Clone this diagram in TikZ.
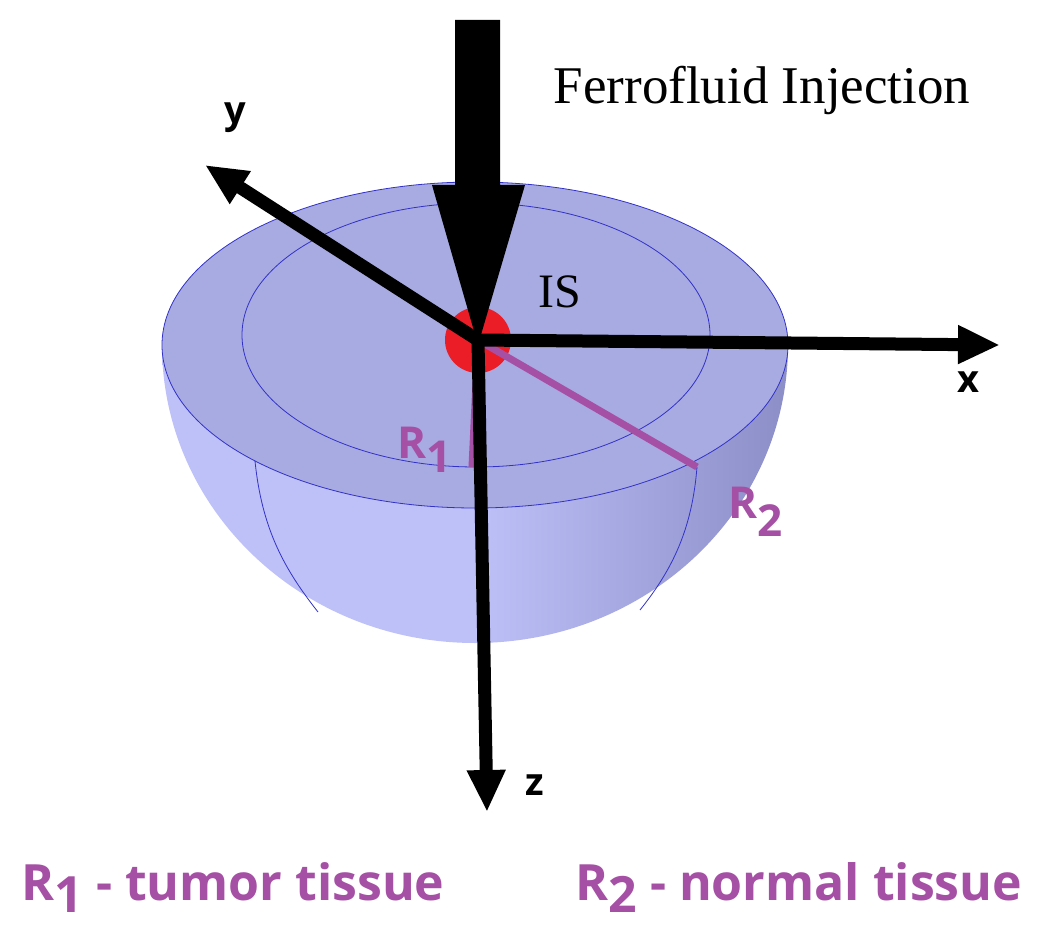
\documentclass[tikz,border=0pt]{standalone}
\usepackage{fontspec}
\setmainfont{Liberation Serif}
\setsansfont{Open Sans}
\usetikzlibrary{arrows.meta}
\definecolor{topc}{RGB}{168,170,226}
\definecolor{sidec}{RGB}{190,192,248}
\definecolor{sided}{RGB}{140,142,200}
\definecolor{edgec}{RGB}{50,50,200}
\definecolor{purp}{RGB}{165,80,165}
\definecolor{dotred}{RGB}{235,30,40}
\tikzset{
  axis/.style={line width=13pt,-{Triangle[length=42pt 0,width=36pt 0]}},
  axlab/.style={font=\sffamily\bfseries\fontsize{38}{42}\selectfont},
  rlab/.style={text=purp,font=\sffamily\bfseries\fontsize{44}{48}\selectfont},
  leg/.style={text=purp,font=\sffamily\bfseries\fontsize{50}{54}\selectfont,anchor=base west},
  seam/.style={edgec,line width=0.8pt},
}
\begin{document}
\begin{tikzpicture}[x=1pt,y=-1pt]
\useasboundingbox (0,0) rectangle (1042,952);
\fill[white] (0,0) rectangle (1042,952);
% hemisphere body
\shade[left color=sidec,right color=sided,middle color=sidec]
  (162,345) arc[start angle=180,end angle=0,x radius=313,y radius=298] -- cycle;
\draw[seam] (255,461) .. controls (262,530) and (285,570) .. (318,612);
\draw[seam] (697,467) .. controls (692,530) and (672,570) .. (640,610);
% top face
\fill[topc] (475,345) ellipse[x radius=313,y radius=163];
\draw[seam] (475,345) ellipse[x radius=313,y radius=163];
\draw[seam] (476,335) ellipse[x radius=234,y radius=132];
\node[circle,fill=dotred,minimum size=66pt,inner sep=0pt] (O) at (478,340) {};
\coordinate (X) at (1000,345);
\coordinate (Y) at (205,165);
\coordinate (Z) at (487,812);
\coordinate (r1) at (472,467);
\coordinate (r2) at (697,467);
\draw[purp,line width=7pt] (O.center) -- (r1);
\draw[purp,line width=7pt] (O.center) -- (r2);
\draw[axis] (O.center) -- (Y);
\draw[axis] (O.center) -- (X);
\draw[axis] (O.center) -- (Z);
% injection arrow
\fill (455,20) -- (500,20) -- (500,185) -- (525,185) -- (478,345) -- (432,185) -- (455,185) -- cycle;
\node[font=\fontsize{53}{56}\selectfont] (ferro) at (762,90) {Ferrofluid Injection};
\node[font=\fontsize{48}{52}\selectfont] (IS) at (560,292) {IS};
\node[axlab] (ly) at (235,118) {y};
\node[axlab] (lx) at (968,382) {x};
\node[axlab] (lz) at (535,785) {z};
\node[rlab] (lr1) at (425,450) {R\raisebox{-14pt}{1}};
\node[rlab] (lr2) at (756,512) {R\raisebox{-18pt}{2}};
\node[leg] (leg1) at (18,900) {R\raisebox{-12pt}{1} - tumor tissue};
\node[leg] (leg2) at (572,900) {R\raisebox{-12pt}{2} - normal tissue};
\end{tikzpicture}
\end{document}
